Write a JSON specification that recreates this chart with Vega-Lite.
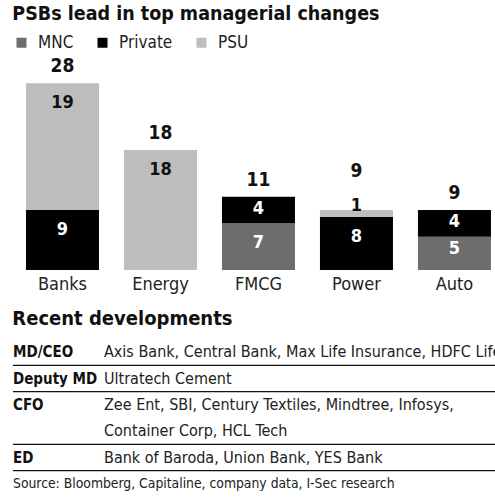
{
  "$schema": "https://vega.github.io/schema/vega-lite/v6.json",
  "padding": {"left": 12, "top": 3, "right": 0, "bottom": 0},
  "spacing": 16,
  "title": {
    "text": "PSBs lead in top managerial changes",
    "anchor": "start",
    "fontSize": 19.5,
    "fontWeight": "bold",
    "offset": 10
  },
  "datasets": {
    "bars": [
      {"cat": "Banks", "type": "Private", "value": 9},
      {"cat": "Banks", "type": "PSU", "value": 19},
      {"cat": "Energy", "type": "PSU", "value": 18},
      {"cat": "FMCG", "type": "MNC", "value": 7},
      {"cat": "FMCG", "type": "Private", "value": 4},
      {"cat": "Power", "type": "Private", "value": 8},
      {"cat": "Power", "type": "PSU", "value": 1},
      {"cat": "Auto", "type": "MNC", "value": 5},
      {"cat": "Auto", "type": "Private", "value": 4}
    ],
    "types": [
      {"type": "MNC", "rank": 1},
      {"type": "Private", "rank": 2},
      {"type": "PSU", "rank": 3}
    ],
    "table": [
      {"slot": "r1", "col": "role", "text": "MD/CEO"},
      {"slot": "r1", "col": "names", "text": "Axis Bank, Central Bank, Max Life Insurance, HDFC Life"},
      {"slot": "r2", "col": "role", "text": "Deputy MD"},
      {"slot": "r2", "col": "names", "text": "Ultratech Cement"},
      {"slot": "r3", "col": "role", "text": "CFO"},
      {"slot": "r3", "col": "names", "text": "Zee Ent, SBI, Century Textiles, Mindtree, Infosys,"},
      {"slot": "r4", "col": "names", "text": "Container Corp, HCL Tech"},
      {"slot": "r5", "col": "role", "text": "ED"},
      {"slot": "r5", "col": "names", "text": "Bank of Baroda, Union Bank, YES Bank"},
      {"slot": "r6", "col": "role", "text": "Source: Bloomberg, Capitaline, company data, I-Sec research"}
    ],
    "lines": [
      {"slot": "r1"}, {"slot": "r2"}, {"slot": "r4"}, {"slot": "r5"}
    ]
  },
  "vconcat": [
    {
      "width": 483,
      "height": 200,
      "data": {"name": "bars"},
      "transform": [
        {"lookup": "type", "from": {"data": {"name": "types"}, "key": "type", "fields": ["rank"]}}
      ],
      "encoding": {
        "x": {
          "field": "cat",
          "type": "nominal",
          "sort": ["Banks", "Energy", "FMCG", "Power", "Auto"],
          "scale": {"paddingInner": 0.255, "paddingOuter": 0.092, "align": 0.72},
          "axis": {"title": null, "labelAngle": 0, "domain": false, "ticks": false, "labelFontSize": 18, "labelColor": "#222", "labelPadding": 5}
        }
      },
      "layer": [
        {
          "mark": "bar",
          "encoding": {
            "y": {"field": "value", "type": "quantitative", "stack": "zero", "scale": {"domain": [0, 30], "nice": false}, "axis": null},
            "color": {
              "field": "type",
              "type": "nominal",
              "scale": {"domain": ["MNC", "Private", "PSU"], "range": ["#6d6d6d", "#000000", "#bdbdbd"]},
              "legend": {"orient": "top", "direction": "horizontal", "title": null, "symbolType": "square", "symbolSize": 100, "symbolStrokeWidth": 0, "labelFontSize": 17, "labelColor": "#222", "columnPadding": 20, "labelOffset": 8, "offset": 6}
            },
            "order": {"field": "rank", "type": "quantitative"}
          }
        },
        {
          "transform": [
            {"aggregate": [{"op": "sum", "field": "value", "as": "total"}], "groupby": ["cat"]},
            {"filter": "datum.cat != 'Power'"}
          ],
          "mark": {"type": "text", "baseline": "alphabetic", "dy": -11, "fontSize": 19, "fontWeight": "bold", "color": "#111"},
          "encoding": {
            "y": {"field": "total", "type": "quantitative"},
            "text": {"field": "total"}
          }
        },
        {
          "transform": [
            {"aggregate": [{"op": "sum", "field": "value", "as": "total"}], "groupby": ["cat"]},
            {"filter": "datum.cat == 'Power'"}
          ],
          "mark": {"type": "text", "baseline": "alphabetic", "dy": -33, "fontSize": 19, "fontWeight": "bold", "color": "#111"},
          "encoding": {
            "y": {"field": "total", "type": "quantitative"},
            "text": {"field": "total"}
          }
        },
        {
          "transform": [
            {"stack": "value", "groupby": ["cat"], "sort": [{"field": "rank"}], "as": ["v0", "v1"]}
          ],
          "encoding": {
            "y": {"field": "v1", "type": "quantitative"},
            "text": {"field": "value"},
            "color": {"condition": {"test": "datum.type == 'PSU'", "value": "#111"}, "value": "#ffffff"}
          },
          "layer": [
            {
              "transform": [{"filter": "datum.value >= 7"}],
              "mark": {"type": "text", "baseline": "middle", "dy": 20, "fontSize": 18, "fontWeight": "bold"}
            },
            {
              "transform": [{"filter": "datum.value >= 2 && datum.value < 7"}],
              "mark": {"type": "text", "baseline": "middle", "dy": 12, "fontSize": 18, "fontWeight": "bold"}
            },
            {
              "transform": [{"filter": "datum.value < 2"}],
              "mark": {"type": "text", "baseline": "middle", "dy": -4, "fontSize": 18, "fontWeight": "bold"}
            }
          ]
        }
      ]
    },
    {
      "title": {
        "text": "Recent developments",
        "anchor": "start",
        "fontSize": 20,
        "fontWeight": "bold",
        "offset": 10
      },
      "width": 483,
      "height": 158,
      "encoding": {
        "y": {
          "field": "slot",
          "type": "nominal",
          "scale": {"domain": ["r1", "r2", "r3", "r4", "r5", "r6"], "paddingInner": 0, "paddingOuter": 0},
          "axis": null
        }
      },
      "layer": [
        {
          "data": {"name": "lines"},
          "mark": {"type": "rule", "color": "#111", "strokeWidth": 1.3},
          "encoding": {
            "y": {"field": "slot", "type": "nominal", "bandPosition": 1}
          }
        },
        {
          "data": {"name": "table"},
          "transform": [{"filter": "datum.col == 'role' && datum.slot != 'r6'"}],
          "mark": {"type": "text", "align": "left", "baseline": "middle", "fontSize": 15, "fontWeight": "bold", "color": "#111"},
          "encoding": {
            "x": {"field": "col", "type": "nominal", "scale": {"type": "point", "domain": ["role", "names"], "range": [0, 91], "padding": 0}, "axis": null},
            "text": {"field": "text"}
          }
        },
        {
          "data": {"name": "table"},
          "transform": [{"filter": "datum.col == 'names'"}],
          "mark": {"type": "text", "align": "left", "baseline": "middle", "fontSize": 16, "color": "#222"},
          "encoding": {
            "x": {"field": "col", "type": "nominal"},
            "text": {"field": "text"}
          }
        },
        {
          "data": {"name": "table"},
          "transform": [{"filter": "datum.slot == 'r6'"}],
          "mark": {"type": "text", "align": "left", "baseline": "middle", "fontSize": 13.8, "color": "#222"},
          "encoding": {
            "x": {"field": "col", "type": "nominal"},
            "text": {"field": "text"}
          }
        }
      ]
    }
  ],
  "config": {
    "view": {"stroke": null},
    "font": "DejaVu Sans Condensed",
    "title": {"font": "DejaVu Sans Condensed", "color": "#111"},
    "axis": {"labelFont": "DejaVu Sans Condensed"},
    "legend": {"labelFont": "DejaVu Sans Condensed"},
    "text": {"font": "DejaVu Sans Condensed"}
  }
}
